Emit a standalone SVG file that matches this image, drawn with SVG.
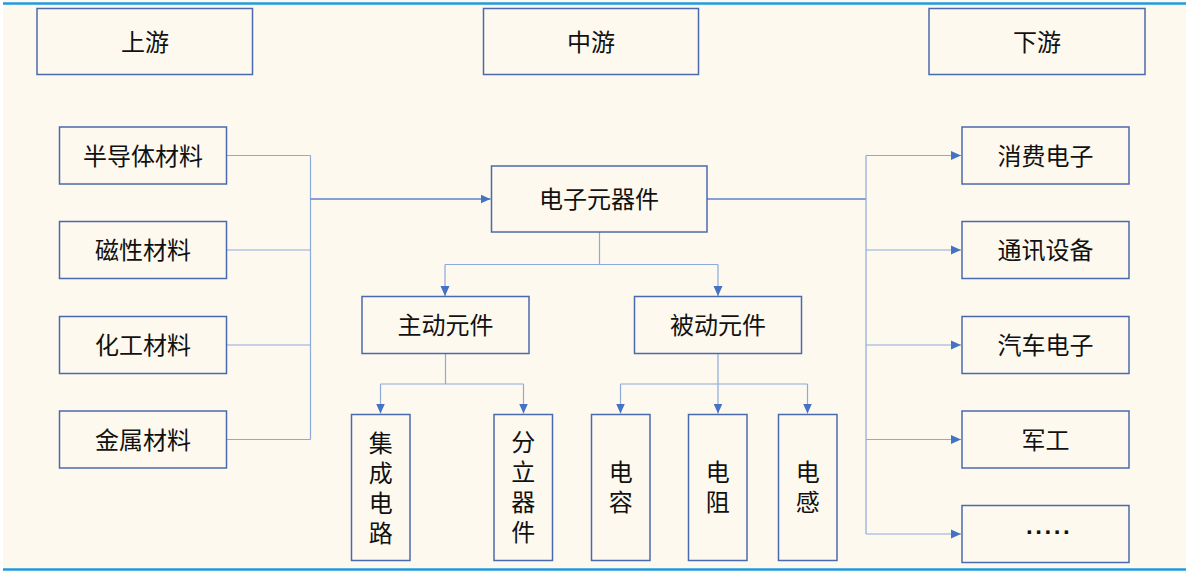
<svg xmlns="http://www.w3.org/2000/svg" width="1186" height="573" viewBox="0 0 1186 573">
<style>
  .box { fill: none; stroke: #4A6AAE; stroke-width: 1.5; }
  .t { font-family: "Noto Sans CJK SC", "Noto Sans", sans-serif; font-size: 24px; fill: #111; text-anchor: middle; }
  .v { writing-mode: vertical-rl; letter-spacing: 6px; }
  .thin { fill: none; stroke: #8EA9DB; stroke-width: 1.2; }
  .main { fill: none; stroke: #5E82CC; stroke-width: 1.6; }
  .bar { stroke: #1E9BE0; stroke-width: 2.5; }
</style>
<defs>
  <marker id="arr" markerUnits="userSpaceOnUse" markerWidth="10" markerHeight="10" viewBox="0 0 10 10" refX="10" refY="5" orient="auto">
    <path d="M0,0.5 L10,5 L0,9.5 Z" fill="#4472C4"/>
  </marker>
</defs>
<rect x="0" y="0" width="1186" height="573" fill="#FFFFFF"/>
<rect x="3" y="0" width="1183" height="573" fill="#FDF9EF"/>
<line class="bar" x1="3" y1="3.5" x2="1186" y2="3.5"/>
<line class="bar" x1="3" y1="569.5" x2="1186" y2="569.5"/>

<g id="connectors">
  <path class="thin" d="M227,155.5 H310.5 M227,250 H310.5 M227,345 H310.5 M227,439.5 H310.5 M310.5,155.5 V439.5"/>
  <path class="main" d="M310.5,199 H490.5" marker-end="url(#arr)"/>
  <path class="main" d="M707,199 H866"/>
  <path class="thin" d="M866,155.5 V534"/>
  <path class="thin" d="M866,155.5 H961" marker-end="url(#arr)"/>
  <path class="thin" d="M866,250 H961" marker-end="url(#arr)"/>
  <path class="thin" d="M866,345 H961" marker-end="url(#arr)"/>
  <path class="thin" d="M866,439.5 H961" marker-end="url(#arr)"/>
  <path class="thin" d="M866,534 H961" marker-end="url(#arr)"/>
  <path class="thin" d="M599.5,232 V264.5 M445,264.5 H718"/>
  <path class="thin" d="M445,264.5 V296" marker-end="url(#arr)"/>
  <path class="thin" d="M718,264.5 V296" marker-end="url(#arr)"/>
  <path class="thin" d="M445.5,353.5 V384 M380.5,384 H523.5"/>
  <path class="thin" d="M380.5,384 V413.5" marker-end="url(#arr)"/>
  <path class="thin" d="M523.5,384 V413.5" marker-end="url(#arr)"/>
  <path class="thin" d="M620.5,384 H807.5"/>
  <path class="thin" d="M718,353.5 V413.5" marker-end="url(#arr)"/>
  <path class="thin" d="M620.5,384 V413.5" marker-end="url(#arr)"/>
  <path class="thin" d="M807.5,384 V413.5" marker-end="url(#arr)"/>
</g>

<g id="upstream-header"><rect class="box" x="37" y="8.5" width="215.5" height="66"/><text class="t" x="145" y="51">上游</text></g>
<g id="midstream-header"><rect class="box" x="483.5" y="8.5" width="215" height="66"/><text class="t" x="591" y="51">中游</text></g>
<g id="downstream-header"><rect class="box" x="929" y="8.5" width="216" height="66"/><text class="t" x="1037" y="51">下游</text></g>

<g id="semiconductor"><rect class="box" x="59.5" y="127" width="167" height="57"/><text class="t" x="143" y="164.5">半导体材料</text></g>
<g id="magnetic"><rect class="box" x="59.5" y="221.5" width="167" height="57"/><text class="t" x="143" y="259">磁性材料</text></g>
<g id="chemical"><rect class="box" x="59.5" y="316.5" width="167" height="57"/><text class="t" x="143" y="354">化工材料</text></g>
<g id="metal"><rect class="box" x="59.5" y="411" width="167" height="57"/><text class="t" x="143" y="448.5">金属材料</text></g>

<g id="electronic-components"><rect class="box" x="491.5" y="166" width="215.5" height="66"/><text class="t" x="599" y="208">电子元器件</text></g>

<g id="active"><rect class="box" x="362" y="296.5" width="167" height="57"/><text class="t" x="445.5" y="334">主动元件</text></g>
<g id="passive"><rect class="box" x="634.5" y="296.5" width="167" height="57"/><text class="t" x="718" y="334">被动元件</text></g>

<g id="ic"><rect class="box" x="351.5" y="414.5" width="58.5" height="146"/>
  <text class="t v" x="380.7" y="490.5">集成电路</text></g>
<g id="discrete"><rect class="box" x="494" y="414.5" width="58.5" height="146"/>
  <text class="t v" x="523.2" y="490">分立器件</text></g>
<g id="capacitor"><rect class="box" x="591.5" y="414.5" width="58.5" height="146"/>
  <text class="t v" x="620.7" y="490">电容</text></g>
<g id="resistor"><rect class="box" x="688.5" y="414.5" width="58.5" height="146"/>
  <text class="t v" x="717.7" y="490">电阻</text></g>
<g id="inductor"><rect class="box" x="778.5" y="414.5" width="58.5" height="146"/>
  <text class="t v" x="807.7" y="490">电感</text></g>

<g id="consumer"><rect class="box" x="962" y="127" width="167" height="57"/><text class="t" x="1045.5" y="164.5">消费电子</text></g>
<g id="telecom"><rect class="box" x="962" y="221.5" width="167" height="57"/><text class="t" x="1045.5" y="259">通讯设备</text></g>
<g id="auto"><rect class="box" x="962" y="316.5" width="167" height="57"/><text class="t" x="1045.5" y="354">汽车电子</text></g>
<g id="military"><rect class="box" x="962" y="411" width="167" height="57"/><text class="t" x="1045.5" y="448.5">军工</text></g>
<g id="more"><rect class="box" x="962" y="505.5" width="167" height="57"/><text x="1026" y="540" font-family="Liberation Sans, sans-serif" font-size="24" font-weight="bold" fill="#111" textLength="45" lengthAdjust="spacing">·····</text></g>
</svg>
